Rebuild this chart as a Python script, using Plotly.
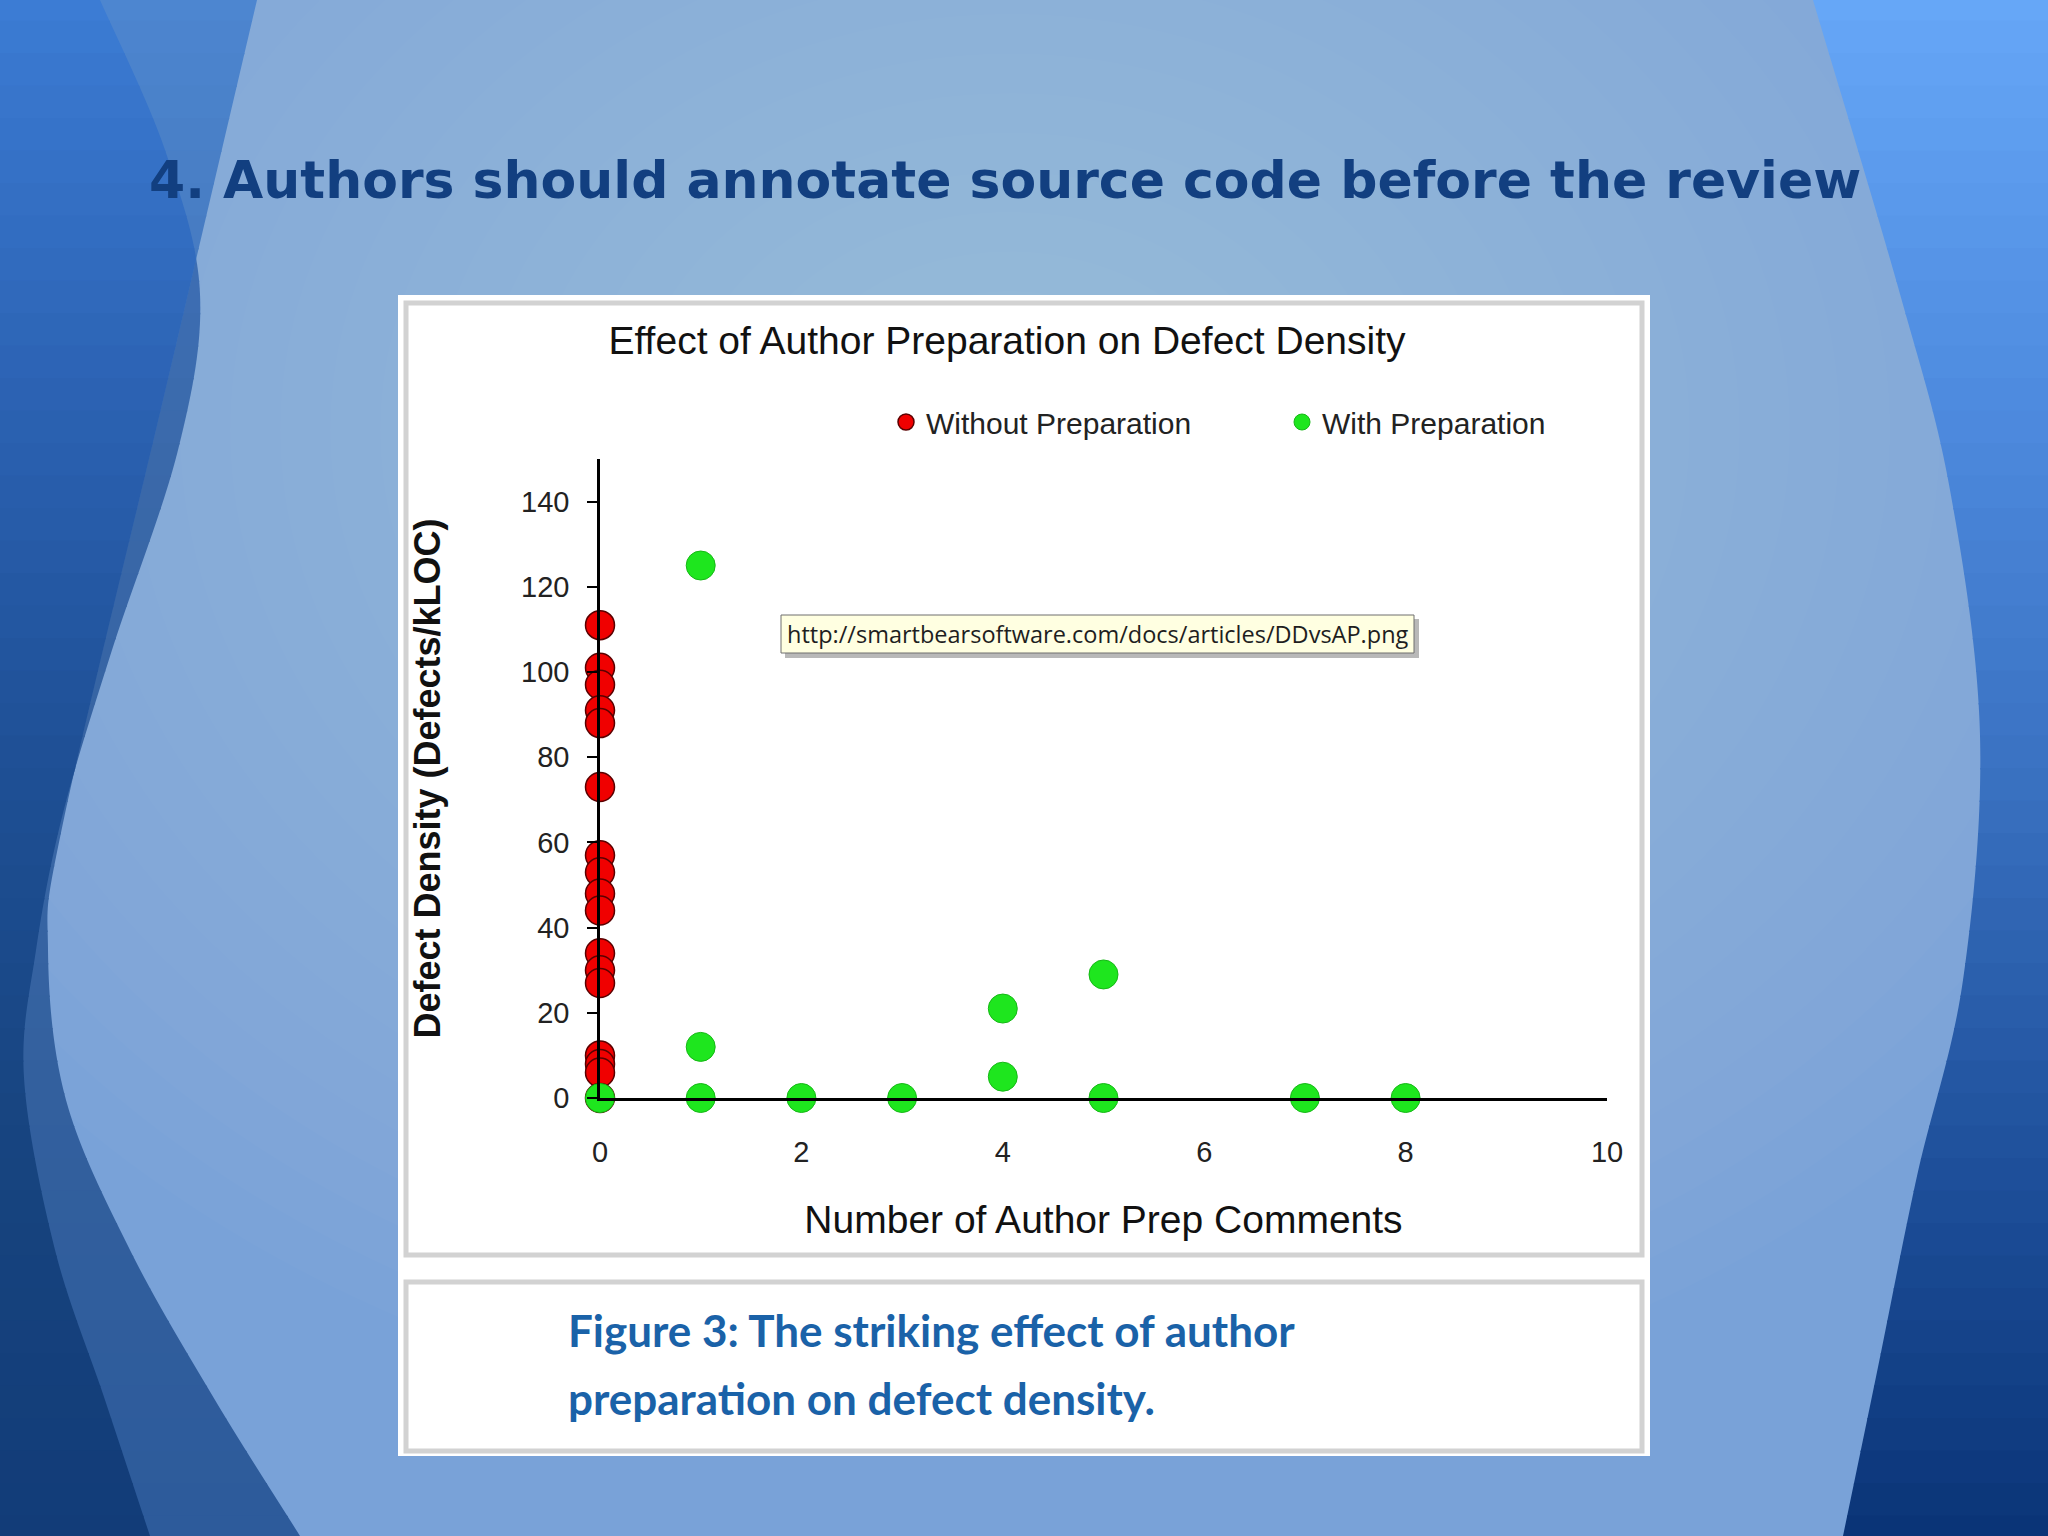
import numpy as np
import plotly.graph_objects as go

# ---------------- data ----------------
without_prep_x = [0, 0, 0, 0, 0, 0, 0, 0, 0, 0, 0, 0, 0, 0, 0, 0, 0]
without_prep_y = [111, 101, 97, 91, 88, 73, 57, 53, 48, 44, 34, 30, 27, 10, 8, 6, 0]
with_prep_x = [0, 1, 1, 1, 2, 3, 4, 4, 5, 5, 7, 8]
with_prep_y = [0, 125, 12, 0, 0, 0, 21, 5, 29, 0, 0, 0]
x_tick_vals = [0, 2, 4, 6, 8, 10]
y_tick_vals = [0, 20, 40, 60, 80, 100, 120, 140]

slide_title = "4. Authors should annotate source code before the review"
chart_title = "Effect of Author Preparation on Defect Density"
x_title = "Number of Author Prep Comments"
y_title = "Defect Density (Defects/kLOC)"
url_text = "http://smartbearsoftware.com/docs/articles/DDvsAP.png"
caption_lines = ["Figure 3: The striking effect of author", "preparation on defect density."]

# ---------------- geometry ----------------
W, H = 2048, 1536
ML, MR, MT, MB = 600, 441, 459, 438
PW = W - ML - MR
PH = H - MT - MB


def px(x):
    return (x - ML) / PW


def py(y):
    return (H - MB - y) / PH


def hex2rgb(h):
    h = h.lstrip('#')
    return np.array([int(h[i:i + 2], 16) for i in (0, 2, 4)], float)


def grad(stops, t):
    ts = [s[0] for s in stops]
    cs = [hex2rgb(s[1]) for s in stops]
    r = [np.interp(t, ts, [c[k] for c in cs]) for k in range(3)]
    return 'rgb(%d,%d,%d)' % tuple(int(round(v)) for v in r)


def catmull(pts, n=24):
    P = [pts[0]] + pts + [pts[-1]]
    out = []
    for i in range(1, len(P) - 2):
        p0, p1, p2, p3 = [np.array(p, float) for p in P[i - 1:i + 3]]
        for k in range(n):
            t = k / n
            out.append(0.5 * ((2 * p1) + (-p0 + p2) * t + (2 * p0 - 5 * p1 + 4 * p2 - p3) * t * t
                              + (-p0 + 3 * p1 - 3 * p2 + p3) * t ** 3))
    out.append(np.array(pts[-1], float))
    arr = np.array(out)
    return arr[:, 0], arr[:, 1]


ygrid = np.arange(-12, H + 14, 4.0)


def boundary(ctrl):
    ys, xs = catmull(ctrl)
    order = np.argsort(ys)
    return np.interp(ygrid, ys[order], xs[order])


S1 = boundary([(-12, 95), (0, 100), (150, 165), (294, 200), (450, 178), (650, 112), (813, 63),
               (950, 36), (1078, 24), (1250, 55), (1400, 105), (1536, 150), (1550, 155)])
S2 = boundary([(-12, 260), (0, 257), (400, 163), (823, 63), (950, 48), (1100, 66),
               (1250, 130), (1400, 215), (1536, 300), (1550, 308)])
SR = boundary([(-12, 1810), (0, 1813), (294, 1900), (490, 1950), (735, 1980), (980, 1963),
               (1176, 1917), (1372, 1877), (1536, 1843), (1550, 1840)])
SMIN = np.minimum(S1, S2)

shapes = []


def band_slices(bx, side, stops, nslices=48):
    edges = np.linspace(-12, H + 12, nslices + 1)
    for i in range(nslices):
        y0, y1 = edges[i], edges[i + 1] + 1.5
        m = (ygrid >= y0) & (ygrid <= y1)
        ys = np.concatenate([[y0], ygrid[m], [y1]])
        xs = np.interp(ys, ygrid, bx)
        xe = -20 if side == 'left' else W + 20
        pts = [(xe, y0)] + list(zip(xs, ys)) + [(xe, y1)]
        path = 'M ' + ' L '.join('%.5f,%.5f' % (px(a), py(b)) for a, b in pts) + ' Z'
        t = ((y0 + y1) / 2) / H
        shapes.append(dict(type='path', path=path, xref='paper', yref='paper',
                           fillcolor=grad(stops, t), line=dict(width=0), layer='below'))


# soft radial highlight in the light area
NR = 24
for i in range(NR):
    f = 1 - i / NR
    rx = 1200 * f + 80
    ry = 950 * f + 60
    cx, cy = 1010, 430
    shapes.append(dict(type='circle', xref='paper', yref='paper',
                       x0=px(cx - rx), x1=px(cx + rx), y0=py(cy + ry), y1=py(cy - ry),
                       fillcolor='rgba(228,238,255,0.017)', line=dict(width=0), layer='below'))

# left decorative waves
band_slices(S1, 'left', [(0, '#4275c0'), (0.3, '#3a69aa'), (0.6, '#34609e'), (1, '#2f5c9a')])
band_slices(S2, 'left', [(0, '#4d86d0'), (0.4, '#3d6cad'), (0.7, '#33609e'), (1, '#2d5b9b')])
band_slices(SMIN, 'left', [(0, '#3c7cd4'), (0.25, '#2c63b4'), (0.5, '#1e4f95'), (0.75, '#17447f'), (1, '#123c78')])
# right decorative band
band_slices(SR, 'right', [(0, '#66a7f7'), (0.25, '#4f8ce0'), (0.5, '#3a72c2'), (0.75, '#1f519c'), (1, '#0a3477')])

# white panel with the two framed boxes
shapes.append(dict(type='rect', xref='paper', yref='paper', x0=px(398), x1=px(1650), y0=py(1456), y1=py(295),
                   fillcolor='white', line=dict(width=0), layer='below'))
shapes.append(dict(type='rect', xref='paper', yref='paper', x0=px(406), x1=px(1642), y0=py(1255), y1=py(303),
                   fillcolor='white', line=dict(color='#d2d2d2', width=5), layer='below'))
shapes.append(dict(type='rect', xref='paper', yref='paper', x0=px(406), x1=px(1642), y0=py(1451), y1=py(1282),
                   fillcolor='white', line=dict(color='#d2d2d2', width=5), layer='below'))

# tooltip box
shapes.append(dict(type='rect', xref='paper', yref='paper', x0=px(785), x1=px(1419), y0=py(658), y1=py(619),
                   fillcolor='rgba(0,0,0,0.28)', line=dict(width=0), layer='above'))
shapes.append(dict(type='rect', xref='paper', yref='paper', x0=px(781), x1=px(1414), y0=py(653), y1=py(615),
                   fillcolor='#ffffe1', line=dict(color='#6f6f6f', width=1), layer='above'))

annotations = [
    dict(text=slide_title, xref='paper', yref='paper', x=px(1005), y=py(180), xanchor='center', yanchor='middle',
         showarrow=False, font=dict(family='DejaVu Sans', size=52, color='#123f80', weight=700)),
    dict(text=url_text, xref='paper', yref='paper', x=px(785), y=py(634), xanchor='left', yanchor='middle',
         showarrow=False, font=dict(family='Open Sans', size=23.5, color='#1e1e1e')),
    dict(text=caption_lines[0], xref='paper', yref='paper', x=px(566), y=py(1330), xanchor='left', yanchor='middle',
         showarrow=False, font=dict(family='Lato', size=44, color='#1a62a8', weight=700)),
    dict(text=caption_lines[1], xref='paper', yref='paper', x=px(566), y=py(1398), xanchor='left', yanchor='middle',
         showarrow=False, font=dict(family='Lato', size=44, color='#1a62a8', weight=700)),
]

fig = go.Figure()
fig.add_trace(go.Scatter(
    x=without_prep_x, y=without_prep_y, mode='markers', name='Without Preparation',
    marker=dict(size=29, color='#f00000', line=dict(color='#5a0000', width=1.5)),
    cliponaxis=False))
fig.add_trace(go.Scatter(
    x=with_prep_x, y=with_prep_y, mode='markers', name='With Preparation',
    marker=dict(size=29, color='#1ee61e', line=dict(color='#16b816', width=1)),
    cliponaxis=False))

fig.update_layout(
    width=W, height=H,
    margin=dict(l=ML, r=MR, t=MT, b=MB, autoexpand=False),
    paper_bgcolor='#79a2d8', plot_bgcolor='rgba(0,0,0,0)',
    font=dict(family='Liberation Sans', color='#1a1a1a'),
    title=dict(text=chart_title, x=1007 / W, xanchor='center', xref='container',
               y=1 - 340 / H, yref='container', yanchor='middle',
               font=dict(family='Liberation Sans', size=39, color='#111111')),
    showlegend=True,
    legend=dict(orientation='h', x=px(886), y=py(422), xanchor='left', yanchor='middle',
                bgcolor='rgba(0,0,0,0)', font=dict(size=30, color='#222222'),
                entrywidth=351, entrywidthmode='pixels', itemsizing='trace'),
    xaxis=dict(range=[0, 10], tickvals=x_tick_vals, showgrid=False, zeroline=False,
               showline=True, linecolor='black', linewidth=2.5, ticks='',
               tickfont=dict(size=29, color='#222222'), ticklabelstandoff=26,
               title=dict(text=x_title, font=dict(size=39, color='#111111'), standoff=40)),
    yaxis=dict(range=[0, 150], tickvals=y_tick_vals, showgrid=False, zeroline=False,
               showline=True, linecolor='black', linewidth=2.5, ticks='outside', ticklen=10,
               tickwidth=2, tickcolor='black',
               tickfont=dict(size=29, color='#222222'), ticklabelstandoff=12,
               title=dict(text=y_title, font=dict(size=36, color='#111111', weight=700), standoff=70)),
    shapes=shapes,
    annotations=annotations,
)

fig.write_html("out.html", config={'displayModeBar': False},
               post_script="document.body.style.margin='0';document.body.style.overflow='hidden';")
